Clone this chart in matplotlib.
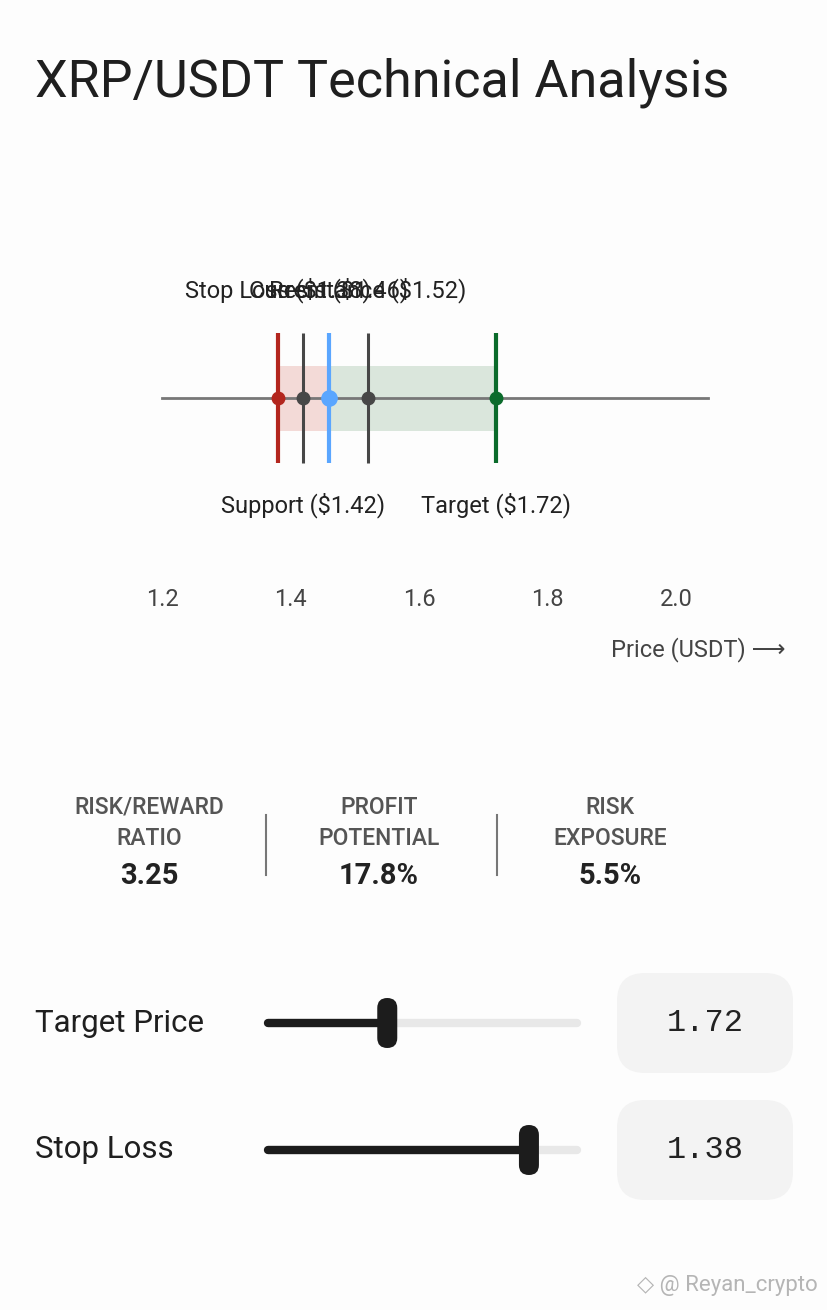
import matplotlib
matplotlib.use("Agg")
import matplotlib.pyplot as plt
from matplotlib.patches import FancyBboxPatch, Rectangle

plt.rcParams['font.family'] = ['Roboto', 'DejaVu Sans']

W, H = 828, 1310

# price levels
level_names = ["Stop Loss", "Support", "Current", "Resistance", "Target"]
level_prices = [1.38, 1.42, 1.46, 1.52, 1.72]
level_colors = ["#b3261e", "#474747", "#5aa6ff", "#474747", "#0b6b2b"]
label_side = ["top", "bottom", "top", "top", "bottom"]
xticks = [1.2, 1.4, 1.6, 1.8, 2.0]
axis_end = 2.05

# metrics
metric_labels = ["RISK/REWARD\nRATIO", "PROFIT\nPOTENTIAL", "RISK\nEXPOSURE"]
metric_values = ["3.25", "17.8%", "5.5%"]

# sliders
slider_names = ["Target Price", "Stop Loss"]
slider_values = [1.72, 1.38]
slider_ranges = [(1.50, 2.07), (1.00, 1.45)]


def px_rect(l, t, r, b):
    return [l / W, 1 - b / H, (r - l) / W, (b - t) / H]


fig = plt.figure(figsize=(W / 100, H / 100), dpi=100)
fig.patch.set_facecolor("#fdfdfd")

bg = fig.add_axes([0, 0, 1, 1])
bg.set_xlim(0, W)
bg.set_ylim(H, 0)
bg.axis("off")
bg.set_zorder(2)

bg.text(35, 83, "XRP/USDT Technical Analysis", fontsize=37.5, color="#1f1f1f",
        va="center", ha="left")

# ---- price chart ----
ax = fig.add_axes(px_rect(162, 280, 676, 580))
ax.set_xlim(1.2, 2.0)
ax.set_ylim(-(580 - 398) / 65, (398 - 280) / 65)
for s in ax.spines.values():
    s.set_visible(False)
ax.set_yticks([])
ax.set_xticks(xticks)
ax.set_xticklabels([f"{t:.1f}" for t in xticks], fontsize=17, color="#444444")
ax.tick_params(axis="x", length=0, pad=6)
ax.set_facecolor("none")

ax.plot([1.2, axis_end], [0, 0], color="#777777", lw=2, clip_on=False, zorder=2)

cur = level_prices[2]
ax.add_patch(Rectangle((level_prices[0], -0.5), cur - level_prices[0], 1.0,
                       color="#f3dad7", lw=0, zorder=1))
ax.add_patch(Rectangle((cur, -0.5), level_prices[4] - cur, 1.0,
                       color="#dae6dc", lw=0, zorder=1))

for name, p, c, side in zip(level_names, level_prices, level_colors, label_side):
    lw = 3.0 if c != "#474747" else 2.2
    ax.plot([p, p], [-1, 1], color=c, lw=lw, zorder=3, solid_capstyle="butt")
    ms = 11 if name == "Current" else 9
    ax.plot([p], [0], "o", color=c, ms=ms, zorder=4)
    y = 1.66 if side == "top" else -1.646
    ax.text(p, y, f"{name} (${p:.2f})", ha="center", va="center",
            fontsize=17, color="#222222", zorder=5)

bg.text(786, 650, "Price (USDT) \u27f6", ha="right", va="center",
        fontsize=17, color="#444444")

# ---- metrics ----
metric_x = [149, 379, 610]
for x, lab, val in zip(metric_x, metric_labels, metric_values):
    bg.text(x, 823, lab, ha="center", va="center", fontsize=16.5,
            color="#555555", linespacing=1.45, fontweight="medium")
    bg.text(x, 876, val, ha="center", va="center", fontsize=21,
            color="#222222", fontweight="bold")
for x in [266, 497]:
    bg.plot([x, x], [815, 875], color="#777777", lw=1.5)

# ---- sliders ----
slider_y = [1023, 1150]
for name, v, (lo, hi), y in zip(slider_names, slider_values, slider_ranges, slider_y):
    bg.text(35, y, name, ha="left", va="center", fontsize=22.5, color="#1f1f1f")
    sax = fig.add_axes(px_rect(268, y - 30, 577, y + 30))
    sax.set_zorder(1)
    sax.set_xlim(lo, hi)
    sax.set_ylim(-1, 1)
    sax.axis("off")
    sax.plot([lo, hi], [0, 0], color="#e8e8e8", lw=6, solid_capstyle="round",
             clip_on=False)
    sax.plot([lo, v], [0, 0], color="#1c1c1c", lw=6, solid_capstyle="round",
             clip_on=False)
    # handle
    hx = 268 + (v - lo) / (hi - lo) * (577 - 268)
    bg.add_patch(FancyBboxPatch((hx - 10, y - 25), 20, 50,
                                boxstyle="round,pad=0,rounding_size=10",
                                fc="#1c1c1c", ec="none", zorder=5))
    # value box
    bg.add_patch(FancyBboxPatch((617, y - 50), 176, 100,
                                boxstyle="round,pad=0,rounding_size=28",
                                fc="#f3f3f3", ec="none"))
    bg.text(705, y, f"{v:.2f}", ha="center", va="center", fontsize=23,
            color="#222222", family=["Liberation Mono", "DejaVu Sans Mono"])

bg.text(818, 1285, "\u25c7 @ Reyan_crypto", ha="right", va="center",
        fontsize=16, color="#b5b5b5")

fig.savefig("out.png", dpi=100, facecolor=fig.get_facecolor())
